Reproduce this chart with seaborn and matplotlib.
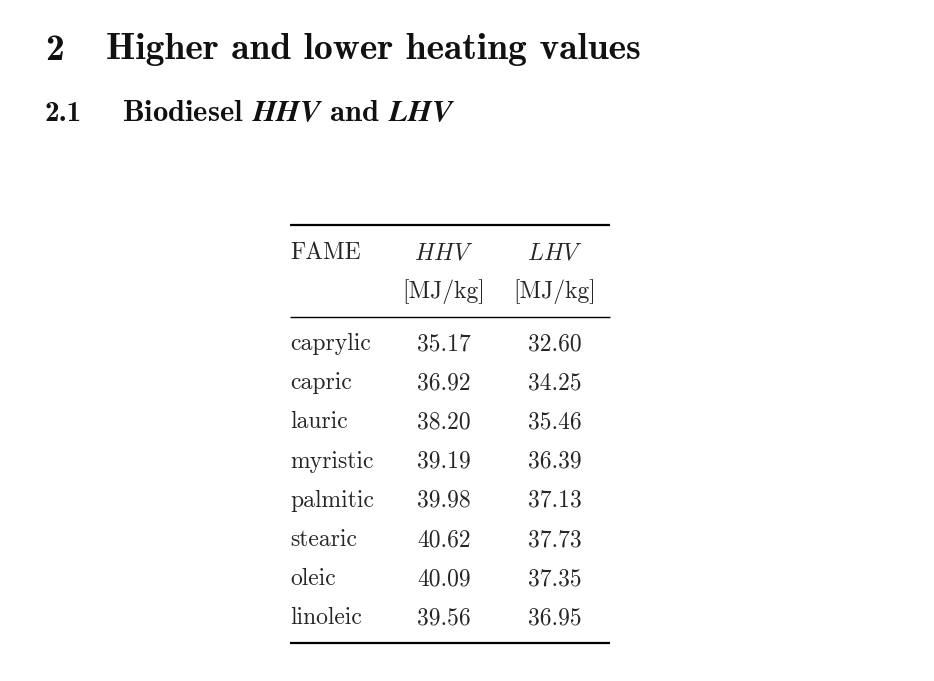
import matplotlib
matplotlib.use('Agg')
import matplotlib.pyplot as plt
import seaborn as sns

# table data
fames = ['caprylic', 'capric', 'lauric', 'myristic', 'palmitic', 'stearic', 'oleic', 'linoleic']
hhv = [35.17, 36.92, 38.20, 39.19, 39.98, 40.62, 40.09, 39.56]
lhv = [32.60, 34.25, 35.46, 36.39, 37.13, 37.73, 37.35, 36.95]
headers = ['FAME', '$HHV$', '$LHV$']
units = ['', '[MJ/kg]', '[MJ/kg]']

sns.set_style('white')
plt.rcParams['font.family'] = ['cmr10', 'DejaVu Serif']
plt.rcParams['mathtext.fontset'] = 'cm'
plt.rcParams['axes.unicode_minus'] = False

fig = plt.figure(figsize=(9.34, 6.81), dpi=100)
ax = fig.add_axes([0, 0, 1, 1])
ax.set_xlim(0, 934)
ax.set_ylim(681, 0)
ax.axis('off')

# headings
bold = dict(family=['cmb10', 'DejaVu Serif'], va='center', color='#111111')
ax.text(45, 50, '2', fontsize=27, **bold)
ax.text(106, 50, 'Higher and lower heating values', fontsize=27, **bold)
ax.text(45, 114, '2.1', fontsize=21, **bold)
ax.text(122, 114, r'Biodiesel $\boldsymbol{HHV}$ and $\boldsymbol{LHV}$', fontsize=22, **bold)

# table
x_cols = [290, 444, 555]
fs = 17
ax.hlines([225, 643], 290, 610, color='black', lw=1.6)
ax.hlines(317, 290, 610, color='black', lw=1.0)

ax.text(x_cols[0], 253, headers[0], fontsize=fs, va='center', ha='left')
for x, h, u in zip(x_cols[1:], headers[1:], units[1:]):
    ax.text(x, 253, h, fontsize=fs, va='center', ha='center')
    ax.text(x, 292, u, fontsize=fs, va='center', ha='center')

for i, (name, h, l) in enumerate(zip(fames, hhv, lhv)):
    y = 344 + i * 39.2
    ax.text(x_cols[0], y, name, fontsize=fs, va='center', ha='left')
    ax.text(x_cols[1], y, f'{h:.2f}', fontsize=fs, va='center', ha='center')
    ax.text(x_cols[2], y, f'{l:.2f}', fontsize=fs, va='center', ha='center')

fig.savefig('out.png', dpi=100)
